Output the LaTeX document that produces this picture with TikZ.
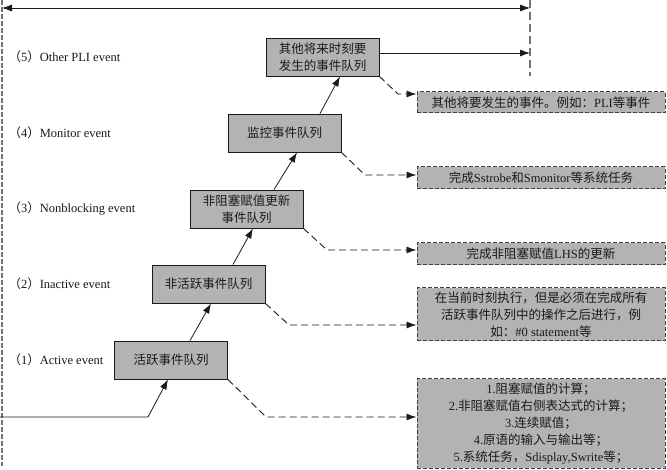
\documentclass[tikz,border=0pt]{standalone}
\usepackage{fontspec}
\setmainfont{Liberation Serif}
\newfontfamily\cjk{Noto Sans CJK SC}
\usetikzlibrary{arrows.meta,calc}
\definecolor{boxgray}{HTML}{B3B3B3}
\definecolor{inkc}{HTML}{1A1A1A}
\newcommand\zh[1]{{\cjk #1}}
\begin{document}
\begin{tikzpicture}[x=1pt,y=-1pt,
  qbox/.style={draw=inkc, fill=boxgray, line width=0.9pt, minimum width=113pt, minimum height=38pt, inner sep=1pt, align=center, font=\fontsize{12.5}{17}\cjk, text=inkc},
  dbox/.style={draw=black!75, dash pattern=on 4pt off 2pt, fill=boxgray, line width=1pt, minimum width=248pt, inner sep=1pt, align=center, font=\fontsize{12.5}{17}\selectfont, text=inkc},
  lab/.style={anchor=west, font=\fontsize{12.5}{15}\selectfont, text=inkc},
  arr/.style={-{Latex[length=10pt,width=7pt]}, line width=0.8pt, draw=inkc},
  darr/.style={arr, dash pattern=on 7pt off 4pt, line width=0.9pt},
  vdash/.style={draw=black!55, line width=1.1pt}
]
\fill[white] (0,0) rectangle (667,470);
\path[use as bounding box] (0,0) rectangle (667,470);

% guide lines
\coordinate (tl) at (2,8);
\coordinate (tr) at (530,8);
\draw[vdash, dash pattern=on 5pt off 2pt] (2,0) -- (2,466);
\draw[vdash, dash pattern=on 8pt off 4pt] (530,0) -- (530,76);
\draw[{Latex[length=10pt,width=7pt]}-{Latex[length=10pt,width=7pt]}, line width=0.8pt, draw=inkc] (tl) -- (tr);

% queue boxes
\node[qbox] (b5) at (322.5,57) {其他将来时刻要\\发生的事件队列};
\node[qbox] (b4) at (284.5,133) {监控事件队列};
\node[qbox] (b3) at (246.5,209) {非阻塞赋值更新\\事件队列};
\node[qbox] (b2) at (208.5,284) {非活跃事件队列};
\node[qbox] (b1) at (171,360) {活跃事件队列};

% left labels
\node[lab] (l5) at (5,57) {\zh{（}5\zh{）}Other PLI event};
\node[lab] (l4) at (5,133) {\zh{（}4\zh{）}Monitor event};
\node[lab] (l3) at (5,209) {\zh{（}3\zh{）}Nonblocking event};
\node[lab] (l2) at (5,284) {\zh{（}2\zh{）}Inactive event};
\node[lab] (l1) at (5,360) {\zh{（}1\zh{）}Active event};

% description boxes
\node[dbox, minimum height=21pt] (d5) at (541,102.5) {\zh{其他将要发生的事件。例如：}PLI\zh{等事件}};
\node[dbox, minimum height=22pt] (d4) at (541,178) {\zh{完成}Sstrobe\zh{和}Smonitor\zh{等系统任务}};
\node[dbox, minimum height=22pt] (d3) at (541,254) {\zh{完成非阻塞赋值}LHS\zh{的更新}};
\node[dbox, minimum height=53pt] (d2) at (541,314.5) {\zh{在当前时刻执行，但是必须在完成所有}\\\zh{活跃事件队列中的操作之后进行，例}\\\zh{如：}\#0 statement\zh{等}};
\node[dbox, minimum height=89pt] (d1) at (541,423.5) {1.\zh{阻塞赋值的计算；}\\2.\zh{非阻塞赋值右侧表达式的计算；}\\3.\zh{连续赋值；}\\4.\zh{原语的输入与输出等；}\\5.\zh{系统任务，}Sdisplay,Swrite\zh{等；}};

% solid arrows
\coordinate (in0) at (0,417);
\coordinate (in1) at (148,417);
\draw[arr] (in0) -- (in1) -- ([xshift=-3pt]b1.south);
\draw[arr] ([xshift=19pt]b1.north) -- ([xshift=2.5pt]b2.south);
\draw[arr] ([xshift=24.5pt]b2.north) -- ([xshift=6.5pt]b3.south);
\draw[arr] ([xshift=27.5pt]b3.north) -- ([xshift=12.5pt]b4.south);
\draw[arr] ([xshift=35.5pt]b4.north) -- ([xshift=17.5pt]b5.south);
\coordinate (r5) at (530,53);
\draw[arr] (b5.east |- r5) -- (r5);

% dashed connectors
\coordinate (k1) at (266,417);
\coordinate (k2) at (289,325);
\coordinate (k3) at (327,250);
\coordinate (k4) at (365,175);
\coordinate (k5) at (398,94);
\draw[darr] (b1.south east) -- (k1) -- (d1.west |- k1);
\draw[darr] (b2.south east) -- (k2) -- (d2.west |- k2);
\draw[darr] (b3.south east) -- (k3) -- (d3.west |- k3);
\draw[darr] (b4.south east) -- (k4) -- (d4.west |- k4);
\draw[darr] (b5.south east) -- (k5) -- (d5.west |- k5);
\end{tikzpicture}
\end{document}
